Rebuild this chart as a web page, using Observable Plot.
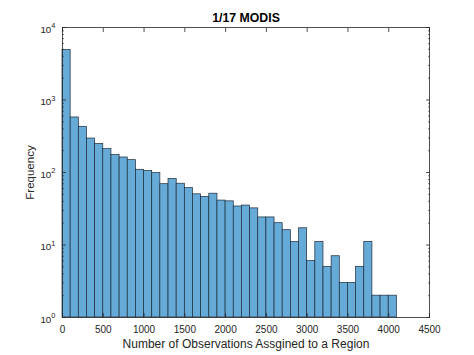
<!DOCTYPE html>
<html>
<head>
<meta charset="utf-8">
<script src="https://cdn.jsdelivr.net/npm/d3@7"></script>
<script src="https://cdn.jsdelivr.net/npm/@observablehq/plot@0.6"></script>
<style>
  html, body { margin: 0; padding: 0; background: #fff; }
  svg { display: block; }
</style>
</head>
<body>
<div id="chart"></div>
<script>
const title = "1/17 MODIS";
const xLabel = "Number of Observations Assgined to a Region";
const yLabel = "Frequency";

// histogram bins (left edges) and width
const binStart = [0,100,200,300,400,500,600,700,800,900,1000,1100,1200,1300,1400,1500,1600,1700,1800,1900,2000,2100,2200,2300,2400,2500,2600,2700,2800,2900,3000,3100,3200,3300,3400,3500,3600,3700,3800,3900,4000];
const binWidth = 100;
const counts = [4880,574,427,294,247,210,174,161,148,109,105,98,69,81,70,61,50,46,51,41,40,34,35,32,24,24,20,16,11,17,6,11,5,7,3,3,5,11,2,2,2];

const xTicks = [0,500,1000,1500,2000,2500,3000,3500,4000,4500];
const yTicks = [1,10,100,1000,10000];
const yTickLabels = ["10^0","10^1","10^2","10^3","10^4"];
const yMinor = [2,3,4,5,6,7,8,9,20,30,40,50,60,70,80,90,200,300,400,500,600,700,800,900,2000,3000,4000,5000,6000,7000,8000,9000];

const bars = binStart.map((s, i) => ({x1: s, x2: s + binWidth, count: counts[i]}));

const axisColor = "#262626";
const font = "'Liberation Sans', Arial, Helvetica, sans-serif";

const chart = Plot.plot({
  width: 474,
  height: 355,
  marginLeft: 62,
  marginRight: 45,
  marginTop: 27,
  marginBottom: 38,
  style: {fontFamily: font, fontSize: "10px", color: axisColor, background: "#fff"},
  x: {domain: [0, 4500], label: null},
  y: {type: "log", domain: [1, 10000], label: null},
  marks: [
    Plot.rectY(bars, {x1: "x1", x2: "x2", y1: 1, y2: "count", fill: "#66AAD7", stroke: "#1c2a3a", strokeWidth: 0.7}),
    Plot.frame({stroke: axisColor, strokeWidth: 0.8}),
    // x ticks (inward), bottom and top
    Plot.axisX({anchor: "bottom", ticks: xTicks, tickSize: -4, text: null, label: null, stroke: axisColor, strokeWidth: 0.8}),
    Plot.axisX({anchor: "top", ticks: xTicks, tickSize: -4, text: null, label: null, stroke: axisColor, strokeWidth: 0.8}),
    Plot.axisX({anchor: "bottom", ticks: xTicks, tickSize: 0, tickPadding: 8, label: null, tickFormat: d => String(d), fill: axisColor, fontSize: 10}),
    // y ticks (inward), left and right
    Plot.axisY({anchor: "left", ticks: yTicks, tickSize: -4, text: null, label: null, stroke: axisColor, strokeWidth: 0.8}),
    Plot.axisY({anchor: "right", ticks: yTicks, tickSize: -4, text: null, label: null, stroke: axisColor, strokeWidth: 0.8}),
    Plot.axisY({anchor: "left", ticks: yMinor, tickSize: -2, text: null, label: null, stroke: axisColor, strokeWidth: 0.6}),
    Plot.axisY({anchor: "right", ticks: yMinor, tickSize: -2, text: null, label: null, stroke: axisColor, strokeWidth: 0.6}),
    Plot.axisY({anchor: "left", ticks: yTicks, tickSize: 0, tickPadding: 7, dy: 2, label: null, tickFormat: d => yTickLabels[yTicks.indexOf(d)], fill: axisColor, fontSize: 9.8}),
    // labels
    Plot.text([title], {frameAnchor: "top", textAnchor: "middle", lineAnchor: "middle", dy: -9, text: d => d, fontWeight: "bold", fontSize: 12.3, fill: "#000"}),
    Plot.text([xLabel], {frameAnchor: "bottom", textAnchor: "middle", lineAnchor: "middle", dy: 27, text: d => d, fontSize: 12, fill: axisColor}),
    Plot.text([yLabel], {frameAnchor: "left", textAnchor: "middle", lineAnchor: "middle", dx: -32, rotate: -90, text: d => d, fontSize: 11.5, fill: axisColor})
  ]
});

// render exponents as superscripts
d3.select(chart).selectAll("text").each(function() {
  const t = this.textContent;
  const m = /^(\d+)\^(\d+)$/.exec(t);
  if (!m) return;
  const sel = d3.select(this);
  sel.text(null);
  sel.append("tspan").text(m[1]);
  sel.append("tspan").attr("dy", "-0.62em").attr("font-size", "7.5px").text(m[2]);
});

document.getElementById("chart").appendChild(chart);
</script>
</body>
</html>
